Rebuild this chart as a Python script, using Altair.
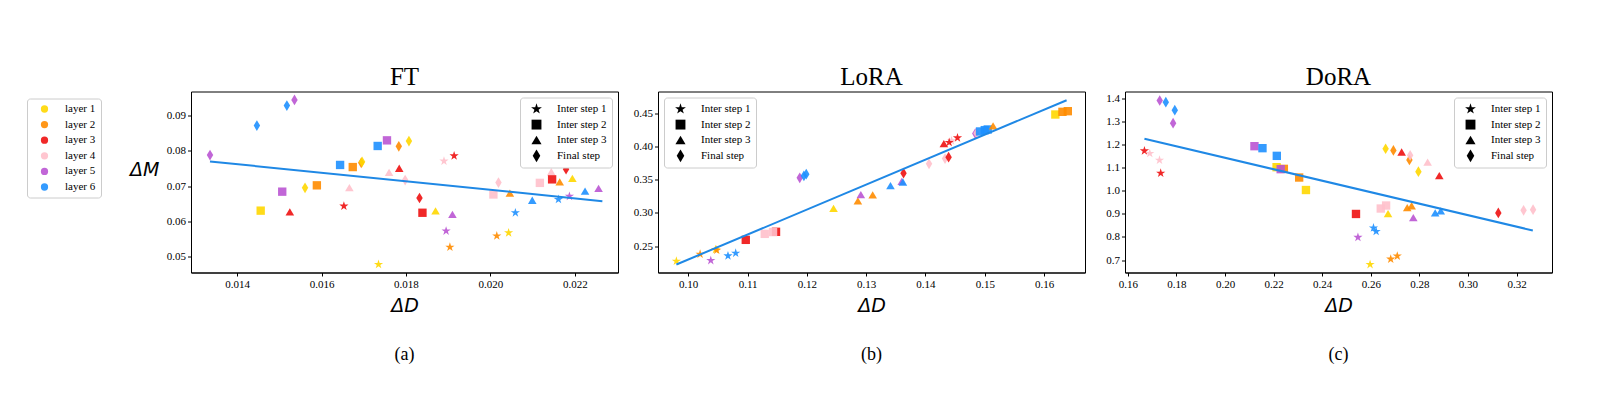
import altair as alt
import pandas as pd

# ---------------- data ----------------
layer_names = ["layer 1", "layer 2", "layer 3", "layer 4", "layer 5", "layer 6"]
layer_colors = ["#FFD700", "#FF8C00", "#EE1111", "#FFC0CB", "#BA55D3", "#1E90FF"]
step_names = ["Inter step 1", "Inter step 2", "Inter step 3", "Final step"]
panel_titles = ["FT", "LoRA", "DoRA"]
captions = ["(a)", "(b)", "(c)"]

# FT
ft_layer = [5, 6, 6, 5, 1, 5, 3, 1, 2, 6, 4, 3, 2, 2, 1, 6, 5, 1, 4, 2, 3, 1, 4, 3, 3, 1, 4, 3, 5, 5,
            2, 4, 4, 2, 2, 1, 6, 6, 4, 4, 3, 2, 6, 3, 1, 5, 6, 5]
ft_step = [4, 4, 4, 4, 2, 2, 3, 4, 2, 2, 3, 1, 2, 4, 4, 2, 2, 1, 3, 4, 3, 4, 4, 4, 2, 3, 1, 1, 3, 1,
           1, 2, 4, 1, 3, 1, 1, 3, 2, 3, 2, 3, 1, 4, 3, 1, 3, 3]
ft_x = [0.01336, 0.01447, 0.01518, 0.01536, 0.01456, 0.01507, 0.01525, 0.01561, 0.01589, 0.01644,
        0.01666, 0.01653, 0.01674, 0.01694, 0.01696, 0.01733, 0.01755, 0.01735, 0.01760, 0.01783,
        0.01784, 0.01807, 0.01798, 0.01832, 0.01839, 0.01870, 0.01890, 0.01914, 0.01910, 0.01895,
        0.01904, 0.02007, 0.02019, 0.02015, 0.02046, 0.02043, 0.02059, 0.02099, 0.02117, 0.02144,
        0.02146, 0.02164, 0.02161, 0.02179, 0.02194, 0.02187, 0.02224, 0.02256]
ft_y = [0.0788, 0.0872, 0.0929, 0.0945, 0.0630, 0.0684, 0.0626, 0.0695, 0.0702, 0.0760,
        0.0695, 0.0643, 0.0754, 0.0766, 0.0769, 0.0814, 0.0830, 0.0477, 0.0738, 0.0813,
        0.0750, 0.0828, 0.0717, 0.0666, 0.0624, 0.0629, 0.0771, 0.0786, 0.0619, 0.0572,
        0.0526, 0.0676, 0.0710, 0.0558, 0.0679, 0.0567, 0.0624, 0.0659, 0.0709, 0.0740,
        0.0719, 0.0711, 0.0662, 0.0748, 0.0721, 0.0671, 0.0685, 0.0693]
ft_fit_x = [0.01336, 0.02265]
ft_fit_y = [0.0770, 0.0657]

# LoRA
lora_layer = [1, 2, 5, 1, 2, 6, 6, 3, 4, 3, 4, 5, 6, 6, 1, 2, 5, 2, 6, 5, 6, 3, 4, 4, 3, 3, 4, 3, 3, 5,
              4, 6, 6, 6, 2, 1, 2, 2]
lora_step = [1, 1, 1, 1, 1, 1, 1, 2, 2, 2, 2, 4, 4, 4, 3, 3, 3, 3, 3, 3, 3, 4, 4, 4, 4, 3, 1, 1, 1, 4,
             4, 2, 2, 2, 3, 2, 2, 2]
lora_x = [0.0980, 0.1020, 0.1038, 0.1046, 0.1048, 0.1067, 0.1080, 0.1097, 0.1129, 0.1148,
          0.1143, 0.1188, 0.1195, 0.1199, 0.1245, 0.1286, 0.1291, 0.1311, 0.1341, 0.1360,
          0.1362, 0.1363, 0.1406, 0.1433, 0.1439, 0.1431, 0.1444, 0.1440, 0.1454, 0.1484,
          0.1486, 0.1492, 0.1500, 0.1505, 0.1514, 0.1619, 0.1631, 0.1640]
lora_y = [0.2274, 0.2380, 0.2284, 0.2450, 0.2440, 0.2355, 0.2395, 0.2595, 0.2685, 0.2716,
          0.2712, 0.3528, 0.3558, 0.3583, 0.3066, 0.3177, 0.3272, 0.3267, 0.3407, 0.3470,
          0.3462, 0.3598, 0.3738, 0.3818, 0.3838, 0.4039, 0.4084, 0.4060, 0.4129, 0.4194,
          0.4200, 0.4225, 0.4245, 0.4255, 0.4305, 0.4480, 0.4520, 0.4530]
lora_fit_x = [0.0980, 0.1638]
lora_fit_y = [0.2224, 0.4695]

# DoRA
dora_layer = [3, 4, 4, 3, 5, 6, 6, 5, 5, 6, 6, 1, 2, 5, 2, 1, 3, 5, 6, 6, 1, 2, 2, 4, 4, 1, 1, 2, 3, 2,
              4, 4, 1, 3, 2, 2, 5, 6, 6, 3, 4, 4]
dora_step = [1, 1, 1, 1, 4, 4, 4, 4, 2, 2, 2, 2, 2, 2, 2, 2, 2, 1, 1, 1, 1, 1, 1, 2, 2, 3, 4, 4, 3, 4,
             4, 3, 4, 3, 3, 3, 3, 3, 3, 4, 4, 4]
dora_x = [0.1668, 0.1690, 0.1730, 0.1735, 0.1731, 0.1756, 0.1793, 0.1786, 0.2121, 0.2154,
          0.2213, 0.2212, 0.2242, 0.2229, 0.2305, 0.2333, 0.2539, 0.2547, 0.2611, 0.2622,
          0.2597, 0.2682, 0.2709, 0.2641, 0.2663, 0.2671, 0.2661, 0.2693, 0.2727, 0.2759,
          0.2762, 0.2834, 0.2796, 0.2882, 0.2750, 0.2768, 0.2775, 0.2865, 0.2888, 0.3125,
          0.3229, 0.3268]
dora_y = [1.1723, 1.1610, 1.1320, 1.0758, 1.3900, 1.3827, 1.3480, 1.2919, 1.1925, 1.1839,
          1.1507, 1.1017, 1.0945, 1.0931, 1.0570, 1.0030, 0.8995, 0.7985, 0.8390, 0.8240,
          0.6810, 0.7045, 0.7175, 0.9230, 0.9360, 0.9000, 1.1814, 1.1740, 1.1665, 1.1330,
          1.1530, 1.1230, 1.0825, 1.0645, 0.9260, 0.9340, 0.8830, 0.9030, 0.9120, 0.9040,
          0.9150, 0.9180]
dora_fit_x = [0.1668, 0.3267]
dora_fit_y = [1.2247, 0.8280]

# axis ticks
ft_xticks = [0.014, 0.016, 0.018, 0.020, 0.022]
ft_yticks = [0.05, 0.06, 0.07, 0.08, 0.09]
lora_xticks = [0.10, 0.11, 0.12, 0.13, 0.14, 0.15, 0.16]
lora_yticks = [0.25, 0.30, 0.35, 0.40, 0.45]
dora_xticks = [0.16, 0.18, 0.20, 0.22, 0.24, 0.26, 0.28, 0.30, 0.32]
dora_yticks = [0.7, 0.8, 0.9, 1.0, 1.1, 1.2, 1.3, 1.4]

# ---------------- styling ----------------
W, H = 427, 181
SERIF = "Liberation Serif"
shape_paths = [
    "M0,-0.9L0.202,-0.278L0.856,-0.278L0.327,0.106L0.529,0.728L0,0.344L-0.529,0.728L-0.327,0.106L-0.856,-0.278L-0.202,-0.278Z",
    "M-0.78,-0.78L0.78,-0.78L0.78,0.78L-0.78,0.78Z",
    "M0,-0.72L0.8,0.64L-0.8,0.64Z",
    "M0,-1L0.6,0L0,1L-0.6,0Z",
]

color_legend = alt.Legend(
    orient="none", legendX=-164, legendY=7, title=None, symbolType="circle",
    symbolSize=53, symbolOpacity=0.9, labelFont=SERIF, labelFontSize=11, labelColor="black",
    padding=5, symbolOffset=7, labelOffset=15, rowPadding=3.6,
    strokeColor="#cccccc", fillColor="white", cornerRadius=3,
)


def panel(xs, ys, layers, steps, fit_x, fit_y, xdom, ydom, xticks, yticks, xfmt, yfmt,
          title, caption, legend_orient, show_ytitle):
    df = pd.DataFrame({
        "x": xs, "y": ys,
        "layer": [layer_names[i - 1] for i in layers],
        "step": [step_names[s - 1] for s in steps],
    })
    fit = pd.DataFrame({"x": fit_x, "y": fit_y})
    cap = pd.DataFrame({"t": [caption]})

    xaxis = alt.Axis(values=xticks, tickCount=len(xticks), format=xfmt, labelFont=SERIF,
                     labelFontSize=11, labelOverlap=False, title="ΔD", titleFont="DejaVu Sans",
                     titleFontStyle="italic", titleFontWeight="normal", titleFontSize=19,
                     titleColor="black", titleY=33, titleBaseline="middle")
    if show_ytitle:
        yaxis = alt.Axis(values=yticks, tickCount=len(yticks), format=yfmt, labelFont=SERIF,
                         labelFontSize=11, labelOverlap=False, title="ΔM",
                         titleFont="DejaVu Sans", titleFontStyle="italic",
                         titleFontWeight="normal", titleFontSize=19, titleColor="black",
                         titleAngle=0, titleAlign="right", titleBaseline="middle",
                         titleX=-32, titleY=78)
    else:
        yaxis = alt.Axis(values=yticks, tickCount=len(yticks), format=yfmt, labelFont=SERIF,
                         labelFontSize=11, labelOverlap=False, title=None)

    xs_ = alt.Scale(domain=xdom, nice=False, zero=False)
    ys_ = alt.Scale(domain=ydom, nice=False, zero=False)

    pts = alt.Chart(df).mark_point(filled=True, size=115, opacity=0.9).encode(
        x=alt.X("x:Q", scale=xs_, axis=xaxis),
        y=alt.Y("y:Q", scale=ys_, axis=yaxis),
        color=alt.Color("layer:N", scale=alt.Scale(domain=layer_names, range=layer_colors),
                        legend=color_legend),
        shape=alt.Shape("step:N", scale=alt.Scale(domain=step_names, range=shape_paths),
                        legend=alt.Legend(
                            orient=legend_orient, title=None, offset=6, padding=5,
                            symbolSize=160, symbolFillColor="black", symbolStrokeColor="black",
                            symbolStrokeWidth=0, symbolOpacity=1, symbolOffset=5,
                            labelOffset=14, rowPadding=3.6,
                            labelFont=SERIF, labelFontSize=11, labelColor="black",
                            strokeColor="#cccccc", fillColor="white", cornerRadius=3)),
    )
    line = alt.Chart(fit).mark_line(color="#1f88e5", strokeWidth=2).encode(
        x="x:Q", y="y:Q")
    text = alt.Chart(cap).mark_text(font=SERIF, fontSize=18, color="black",
                                    baseline="middle", align="center").encode(
        text="t:N", x=alt.value(W / 2), y=alt.value(263))
    return alt.layer(pts, line, text).properties(
        width=W, height=H,
        title=alt.Title(title, font=SERIF, fontSize=25, fontWeight="normal", color="black",
                        offset=1.5, anchor="middle"),
    )


p1 = panel(ft_x, ft_y, ft_layer, ft_step, ft_fit_x, ft_fit_y, [0.01291, 0.02302], [0.0454, 0.0969],
           ft_xticks, ft_yticks, ".3f", ".2f", panel_titles[0], captions[0], "top-right", True)
p2 = panel(lora_x, lora_y, lora_layer, lora_step, lora_fit_x, lora_fit_y, [0.0949, 0.1669],
           [0.2104, 0.4826], lora_xticks, lora_yticks, ".2f", ".2f", panel_titles[1], captions[1],
           "top-left", False)
p3 = panel(dora_x, dora_y, dora_layer, dora_step, dora_fit_x, dora_fit_y, [0.1588, 0.3346],
           [0.6464, 1.4289], dora_xticks, dora_yticks, ".2f", ".1f", panel_titles[2], captions[2],
           "top-right", False)

chart = alt.hconcat(p1, p2, p3, spacing=40, bounds="flush").resolve_scale(
    x="independent", y="independent", color="shared", shape="shared"
).resolve_legend(color="shared", shape="independent").properties(
    padding={"left": 26, "top": 64.5, "right": 10, "bottom": 10},
    background="white",
).configure_view(stroke="black", strokeWidth=1).configure_axis(
    labelFont=SERIF, labelFontSize=11, labelColor="black", tickColor="black",
    domainColor="black", tickSize=3.5, grid=False, labelPadding=2,
)

chart.save("out.html", embed_options={"renderer": "svg", "actions": False})
